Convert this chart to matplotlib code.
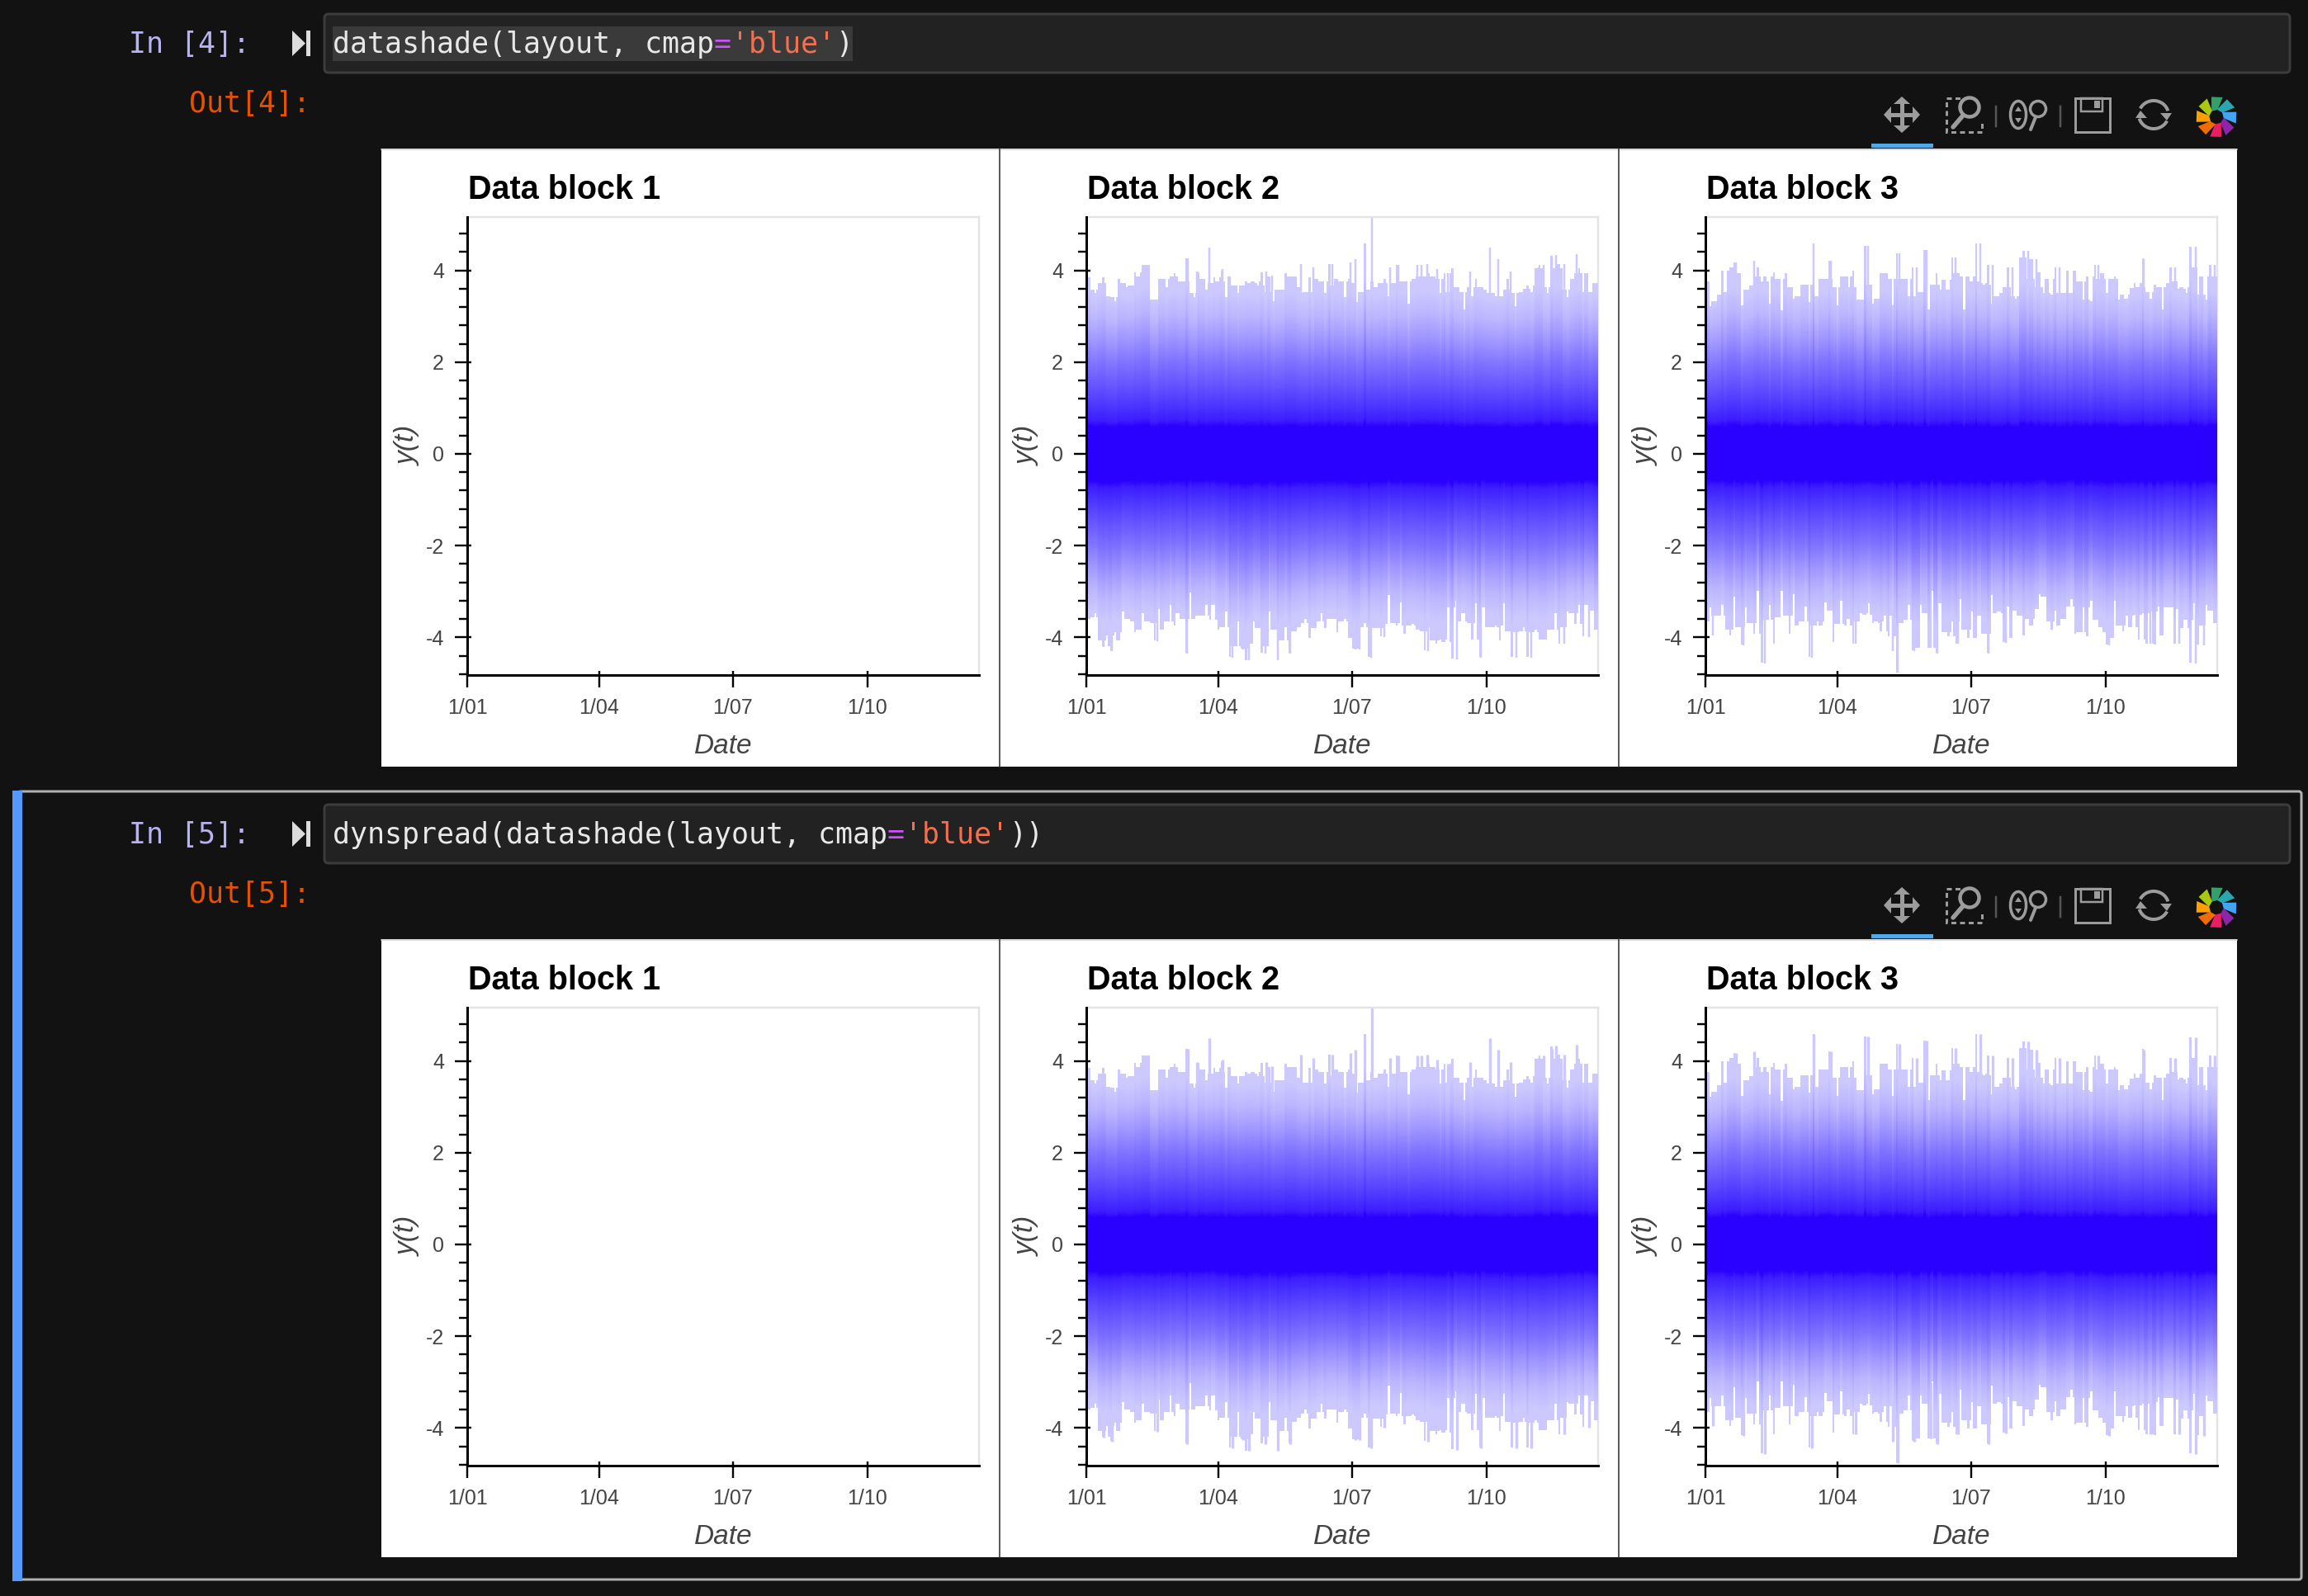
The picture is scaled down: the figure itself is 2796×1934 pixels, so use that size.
import numpy as np
import matplotlib
matplotlib.use("Agg")
import matplotlib.pyplot as plt
from matplotlib.colors import LinearSegmentedColormap
from matplotlib.patches import Rectangle, FancyBboxPatch, Polygon, Circle, Ellipse, Arc

# ---------- data ----------
PANEL_TITLES = ["Data block 1", "Data block 2", "Data block 3"]
X_TICK_DAYS = [0, 90, 181, 273]
X_TICK_LABELS = ["1/01", "1/04", "1/07", "1/10"]
Y_TICKS = [-4, -2, 0, 2, 4]
Y_TICK_LABELS = ["-4", "-2", "0", "2", "4"]

P2_UPPER = [3.84,3.57,3.50,3.72,3.84,3.44,3.42,3.33,3.81,3.72,
3.63,3.67,3.96,3.87,4.11,4.11,3.36,3.36,3.81,3.81,
3.63,3.87,3.93,3.75,3.75,4.26,3.50,3.42,3.96,3.81,
3.57,3.72,3.84,3.75,3.99,3.42,3.87,3.66,3.50,3.66,
3.75,3.72,3.75,3.66,3.96,3.53,3.87,3.33,3.57,3.57,
3.93,3.87,3.87,3.63,3.50,3.53,3.84,3.42,3.81,3.75,
3.50,4.14,3.66,3.81,3.75,3.42,3.81,3.72,3.30,3.53,
4.59,3.57,3.75,3.63,3.72,3.81,3.44,3.72,4.11,3.75,
3.75,3.27,3.81,3.87,3.87,3.87,3.93,3.87,3.81,3.50,
3.93,3.53,4.05,3.63,3.53,3.15,3.63,3.44,3.81,3.63,
3.57,3.50,3.50,3.44,3.44,3.57,3.81,3.50,3.21,3.53,
3.60,3.67,3.53,4.05,4.11,3.63,3.50,4.32,4.05,4.14,
3.57,3.42,3.81,3.93,4.05,3.53,3.93,3.53,3.72]
P2_LOWER = [-3.60,-3.57,-3.48,-4.08,-4.20,-3.96,-4.29,-3.90,-4.08,-3.45,
-3.60,-3.66,-3.90,-3.84,-3.48,-3.66,-3.69,-4.08,-3.39,-3.84,
-3.66,-3.30,-3.75,-3.48,-3.60,-4.35,-3.03,-3.60,-3.54,-3.54,
-3.30,-3.63,-3.30,-3.84,-3.78,-3.45,-4.44,-4.20,-3.66,-4.26,
-4.50,-4.14,-3.66,-3.81,-4.35,-4.20,-3.45,-3.84,-4.50,-4.08,
-3.78,-4.35,-3.87,-3.78,-3.69,-3.60,-4.02,-3.81,-3.66,-3.48,
-3.81,-3.60,-3.60,-3.90,-3.66,-3.60,-4.02,-4.26,-4.26,-3.78,
-3.69,-4.44,-3.81,-3.81,-3.99,-3.72,-3.09,-3.69,-3.75,-3.24,
-3.93,-3.75,-3.72,-3.84,-3.87,-4.29,-3.78,-4.08,-4.14,-4.05,
-4.11,-3.36,-4.47,-3.21,-3.66,-3.48,-3.69,-4.05,-3.27,-4.44,
-3.36,-3.78,-3.78,-3.75,-4.08,-3.27,-3.87,-4.44,-3.90,-3.87,
-3.78,-4.44,-3.90,-3.84,-4.05,-4.05,-3.84,-3.84,-3.48,-4.14,
-3.78,-3.45,-3.48,-3.72,-3.30,-3.99,-3.30,-3.42,-3.84]
P3_UPPER = [3.75,3.21,3.33,3.47,3.99,3.53,4.07,4.17,3.93,3.24,
3.57,3.66,3.87,4.07,3.75,3.87,3.27,3.96,3.81,3.12,
3.93,3.64,3.38,3.44,3.69,3.69,3.30,4.59,3.44,3.81,
3.82,4.20,3.63,3.24,3.87,3.87,3.63,3.99,3.36,3.36,
4.54,3.69,3.27,3.38,3.93,3.93,3.82,3.24,4.37,3.82,
3.82,3.44,4.07,3.38,3.53,4.45,3.15,3.69,3.93,3.57,
3.79,3.57,4.28,3.93,3.87,3.15,3.87,3.75,4.59,3.73,
3.69,4.12,3.27,3.44,3.50,3.63,4.07,3.44,3.38,4.28,
4.42,3.81,4.24,3.64,3.96,3.50,3.81,3.47,4.07,3.50,
3.50,3.99,3.50,3.99,3.75,3.36,3.87,3.33,4.12,3.81,
3.93,3.50,3.82,3.87,3.36,3.47,3.38,3.61,3.72,3.63,
4.26,3.52,3.38,3.69,3.64,3.15,3.72,4.07,3.75,3.60,
3.64,3.50,4.51,4.07,3.47,3.87,3.36,4.12,3.87]
P3_LOWER = [-3.66,-3.36,-3.54,-3.54,-3.30,-3.84,-3.96,-3.12,-3.78,-4.17,
-3.36,-3.69,-3.93,-3.00,-4.56,-3.63,-3.30,-4.14,-3.57,-3.00,
-3.54,-3.93,-3.06,-3.75,-3.66,-3.33,-4.44,-3.75,-3.66,-3.75,
-3.24,-3.42,-4.11,-3.72,-3.21,-3.75,-3.60,-4.14,-3.66,-3.48,
-3.51,-3.27,-3.69,-3.66,-3.87,-3.54,-3.99,-3.12,-4.77,-3.69,
-3.63,-3.30,-4.29,-4.23,-3.30,-3.48,-4.23,-3.00,-4.35,-3.27,
-3.90,-3.99,-3.66,-4.14,-3.18,-3.84,-4.02,-3.45,-4.02,-3.54,
-3.93,-4.35,-3.09,-3.48,-3.45,-4.11,-3.33,-4.02,-3.42,-3.54,
-3.96,-3.60,-3.75,-3.39,-3.06,-3.12,-3.66,-3.84,-3.42,-3.75,
-3.60,-3.33,-3.18,-3.93,-3.90,-3.36,-3.99,-3.21,-3.63,-3.78,
-3.90,-4.17,-4.02,-3.21,-3.75,-3.87,-3.54,-3.78,-3.51,-4.05,
-3.48,-4.14,-3.45,-4.17,-3.33,-3.96,-3.36,-3.36,-4.14,-3.39,
-3.81,-3.63,-4.56,-3.27,-4.17,-3.75,-3.30,-3.42,-3.69]

P2_UP_SPIKE_DAY = [83.9,69.3,146.1,154.8,167.5,180.2,183.4,194.6,225.5,228.4,232.5,239.3,246.6,262,275.2,280.7,289.3,334.3,320.5,317.5,325.7,312,308.4,75.7,122.5,126.6,93,212.5,207]
P2_UP_SPIKE_VAL = [4.50,4.26,4.14,4.06,4.14,4.18,4.24,5.17,4.11,4.11,4.14,4.03,3.94,3.97,4.50,4.24,3.97,4.36,4.33,4.27,4.14,4.11,4.06,3.97,3.97,3.88,4.03,4.11,4.06]
P2_LO_SPIKE_DAY = [17.5,68.6,99.6,106.8,111.1,122.3,130.7,139.3,194.3,183.4,186.1,203,233,252.5,269.3,293.4,303.4,326.1,343,12,48.6]
P2_LO_SPIKE_VAL = [-4.29,-4.35,-4.44,-4.26,-4.50,-4.35,-4.50,-4.35,-4.44,-4.26,-4.26,-3.99,-4.29,-4.47,-4.44,-4.44,-4.44,-4.14,-3.99,-4.20,-4.08]
P3_UP_SPIKE_DAY = [73.9,111.1,132.3,150.7,170.7,187.5,216.1,220,225.5,268.2,299.1,334.6,347.5,85.7,33.4,20.7,196.1,241.4,320.2,143.9,209.3]
P3_UP_SPIKE_VAL = [4.59,4.54,4.37,4.45,4.28,4.59,4.28,4.42,4.24,4.12,4.24,4.51,4.12,4.20,4.20,4.17,4.12,4.07,4.07,4.07,4.07]
P3_LO_SPIKE_DAY = [5,26.1,40.5,72.7,102.3,128,130.9,142.3,153.4,158,193.2,275,334.6,340.2,172,303.4,323.2,205]
P3_LO_SPIKE_VAL = [-3.96,-4.17,-4.56,-4.44,-4.14,-4.29,-4.77,-4.29,-4.23,-4.35,-4.35,-4.17,-4.56,-4.17,-4.14,-4.14,-4.14,-4.11]

SHADE_LEVELS = [0.0, 0.58, 0.72, 1.0, 1.5, 2.0, 2.5, 3.0, 3.5, 5.2]
SHADE_COLORS = ["#2a00ff", "#2a00ff", "#3d1cff", "#4a33ff", "#6655ff", "#8074ff",
                "#a097ff", "#bbb6ff", "#cdc9ff", "#cdc9ff"]

CELLS = [
    ("In [4]:", "Out[4]:", [("datashade(layout, cmap", "#e8e8e8"), ("=", "#d050ff"),
                            ("'blue'", "#f07050"), (")", "#e8e8e8")]),
    ("In [5]:", "Out[5]:", [("dynspread(datashade(layout, cmap", "#e8e8e8"), ("=", "#d050ff"),
                            ("'blue'", "#f07050"), ("))", "#e8e8e8")]),
]

# ---------- layout constants (pixels) ----------
W, H = 2796, 1934
ROW_OFFSET = 958
BG = "#121212"
MONO = "DejaVu Sans Mono"
SANS = "Liberation Sans"
PX = 0.72  # points per pixel at dpi 100
plt.rcParams["axes.unicode_minus"] = False

fig = plt.figure(figsize=(W / 100, H / 100), dpi=100, facecolor=BG)
bg = fig.add_axes([0, 0, 1, 1], zorder=0)
bg.set_xlim(0, W)
bg.set_ylim(H, 0)
bg.axis("off")

cmap = LinearSegmentedColormap.from_list(
    "shade", [(l / SHADE_LEVELS[-1], c) for l, c in zip(SHADE_LEVELS, SHADE_COLORS)])
PALE = "#cdc9ff"
Y_TOP, Y_BOT = 5.167, -4.82
XMAX = 349
YGRID = np.arange(-4.9, 5.24, 0.018)


def thin_tips(v):
    """Each read column shows its value on its left half; its right half shows the
    median of it and its neighbours, so isolated peaks and notches stay narrow."""
    out = np.empty(2 * len(v))
    out[0::2] = v
    prev = np.r_[v[0], v[:-1]]
    nxt = np.r_[v[1:], v[-1]]
    out[1::2] = np.median(np.vstack([prev, v, nxt]), axis=0)
    return out


def draw_density(ax, upper, lower, spikes, spike_px):
    up2 = thin_tips(np.array(upper))
    lo2 = thin_tips(np.array(lower))
    n2 = len(up2)
    edges_x = np.linspace(0, XMAX, n2 + 1)
    for xs, ys, base in ((spikes[0], spikes[1], 3.0), (spikes[2], spikes[3], -3.0)):
        ax.vlines(xs, base, ys, colors=PALE, lw=spike_px * PX, zorder=1)
    scale = 3.7
    yc = 0.5 * (YGRID[:-1] + YGRID[1:])
    z = np.full((len(yc), n2), np.nan)
    pos = yc >= 0
    for j in range(n2):
        col = np.empty(len(yc))
        col[pos] = yc[pos] * scale / (0.45 * up2[j] + 0.55 * scale)
        col[~pos] = -yc[~pos] * scale / (0.45 * -lo2[j] + 0.55 * scale)
        col[(yc > up2[j]) | (yc < lo2[j])] = np.nan
        z[:, j] = col
    ax.pcolormesh(edges_x, YGRID, np.ma.masked_invalid(z), cmap=cmap, vmin=0,
                  vmax=SHADE_LEVELS[-1], shading="flat", zorder=2, rasterized=True,
                  antialiased=False, linewidth=0)


def make_axes(left, top, idx, data):
    ax = fig.add_axes([left / W, 1 - (top + 555.3) / H, 620 / W, 555.3 / H], zorder=2, facecolor="white")
    ax.set_xlim(0, XMAX)
    ax.set_ylim(Y_BOT, Y_TOP)
    if data is not None:
        draw_density(ax, *data)
    ax.set_title(PANEL_TITLES[idx], loc="left", fontfamily=SANS, fontweight="bold",
                 fontsize=28.5, color="black", pad=22 * PX, x=0.002)
    ax.set_xticks(X_TICK_DAYS, X_TICK_LABELS)
    ax.set_yticks(Y_TICKS, Y_TICK_LABELS)
    ax.set_yticks(np.arange(-4.8, 5.0, 0.4), minor=True)
    ax.tick_params(axis="both", which="major", direction="out", length=15 * PX, width=2.4 * PX,
                   color="black", labelcolor="#444444", labelsize=18)
    ax.tick_params(axis="x", which="major", pad=13 * PX)
    ax.tick_params(axis="y", which="major", pad=13 * PX)
    ax.tick_params(axis="y", which="minor", direction="out", length=10 * PX, width=2.4 * PX, color="black")
    for lab in ax.get_xticklabels() + ax.get_yticklabels():
        lab.set_fontfamily(SANS)
    for lab in ax.get_yticklabels():
        lab.set_va("center_baseline")
    ax.set_xlabel("Date", fontfamily=SANS, fontstyle="italic", fontsize=24, color="#444444")
    ax.xaxis.set_label_coords(0.5, -95 / 555.3)
    ax.xaxis.label.set_va("baseline")
    ax.set_ylabel("y(t)", fontfamily=SANS, fontstyle="italic", fontsize=24, color="#444444")
    ax.yaxis.set_label_coords(-72 / 620, 0.5)
    ax.yaxis.label.set_va("center")
    for s in ("top", "right"):
        ax.spines[s].set_color("#e4e4e4")
        ax.spines[s].set_linewidth(2.4 * PX)
        ax.spines[s].set_zorder(1.5)
    for s in ("left", "bottom"):
        ax.spines[s].set_color("black")
        ax.spines[s].set_linewidth(3 * PX)
    # short inner part of the major ticks
    sx = ax.secondary_xaxis("bottom")
    sx.set_xticks(X_TICK_DAYS, ["" for _ in X_TICK_DAYS])
    sx.tick_params(direction="in", length=5 * PX, width=2.4 * PX, color="black")
    sy = ax.secondary_yaxis("left")
    sy.set_yticks(Y_TICKS, ["" for _ in Y_TICKS])
    sy.tick_params(direction="in", length=5 * PX, width=2.4 * PX, color="black")
    for sec in (sx, sy):
        for sp in sec.spines.values():
            sp.set_visible(False)
    return ax


def draw_toolbar(dy):
    c = "#9c9c9c"
    bg.add_patch(Rectangle((2267, 174 + dy), 75, 5, color="#4fa8e8", lw=0))
    # pan
    cx, cy = 2304, 139 + dy
    bg.plot([cx - 16, cx + 16], [cy, cy], color=c, lw=5 * PX, solid_capstyle="butt")
    bg.plot([cx, cx], [cy - 16, cy + 16], color=c, lw=5 * PX, solid_capstyle="butt")
    for sx, sy in ((1, 0), (-1, 0), (0, 1), (0, -1)):
        if sx:
            pts = [(cx + sx * 22, cy), (cx + sx * 13, cy - 10), (cx + sx * 13, cy + 10)]
        else:
            pts = [(cx, cy + sy * 22), (cx - 10, cy + sy * 13), (cx + 10, cy + sy * 13)]
        bg.add_patch(Polygon(pts, color=c, lw=0))
    # box zoom
    bg.add_patch(Rectangle((2358, 119 + dy), 43, 41, fill=False, ec=c, lw=3 * PX, ls=(0, (2, 1.5))))
    bg.add_patch(Rectangle((2380, 112 + dy), 26, 36, color=BG, lw=0))
    bg.add_patch(Circle((2386, 130 + dy), 11.5, fill=False, ec=c, lw=4.5 * PX))
    bg.plot([2378, 2366], [140 + dy, 154 + dy], color=c, lw=5.5 * PX, solid_capstyle="round")
    # separators
    for x in (2418, 2495.5):
        bg.plot([x, x], [129 + dy, 153 + dy], color="#555555", lw=2.5 * PX)
    # wheel zoom
    bg.add_patch(Ellipse((2445, 139 + dy), 19, 33, fill=False, ec=c, lw=3.5 * PX))
    bg.add_patch(Polygon([(2445, 129 + dy), (2441, 135 + dy), (2449, 135 + dy)], color=c, lw=0))
    bg.add_patch(Polygon([(2445, 149 + dy), (2441, 143 + dy), (2449, 143 + dy)], color=c, lw=0))
    bg.add_patch(Circle((2469, 132 + dy), 9.5, fill=False, ec=c, lw=3.5 * PX))
    bg.plot([2466, 2460], [142 + dy, 157 + dy], color=c, lw=4 * PX, solid_capstyle="round")
    # save
    bg.add_patch(Rectangle((2514, 119 + dy), 42, 41, fill=False, ec=c, lw=3 * PX))
    bg.add_patch(Rectangle((2521, 119 + dy), 26, 16, fill=False, ec=c, lw=2.5 * PX))
    bg.add_patch(Rectangle((2537, 122 + dy), 7, 9, color=c, lw=0))
    # reset
    cx, cy = 2609, 139 + dy
    bg.add_patch(Arc((cx, cy), 36, 34, theta1=205, theta2=345, ec=c, lw=4 * PX))
    bg.add_patch(Arc((cx, cy), 36, 34, theta1=25, theta2=165, ec=c, lw=4 * PX))
    bg.add_patch(Polygon([(2587, 143 + dy), (2601, 143 + dy), (2593, 134 + dy)], color=c, lw=0))
    bg.add_patch(Polygon([(2617, 137 + dy), (2631, 137 + dy), (2625, 146 + dy)], color=c, lw=0))
    # hover wheel
    cols = ["#33a06a", "#2ba6b0", "#42a5f5", "#8e24aa", "#e91e63", "#ef6c00", "#ffa000", "#a8c814"]
    cx, cy = 2685, 141.7 + dy
    for k, col in enumerate(cols):
        a = np.deg2rad(-90 + 45 * k)
        pts = []
        for r, off in ((9, -40), (25, -14), (25, 18), (9, 10)):
            t = a + np.deg2rad(off)
            pts.append((cx + r * np.cos(t), cy + r * np.sin(t)))
        bg.add_patch(Polygon(pts, color=col, lw=0))


def draw_cell(r, dy):
    in_label, out_label, tokens = CELLS[r]
    bg.text(303, 64 + dy, in_label, color="#b7b2f2", fontfamily=MONO, fontsize=25.1, ha="right", va="baseline")
    bg.text(376, 136 + dy, out_label, color="#e65100", fontfamily=MONO, fontsize=25.1, ha="right", va="baseline")
    bg.add_patch(Polygon([(354, 37 + dy), (354, 68 + dy), (370, 52.5 + dy)], color="#dcdcdc", lw=0))
    bg.add_patch(Rectangle((371, 37 + dy), 4.5, 31, color="#dcdcdc", lw=0))
    bg.add_patch(FancyBboxPatch((393, 17 + dy), 2381, 71, boxstyle="round,pad=0,rounding_size=5",
                                fc="#222222", ec="#3c3c3c", lw=3 * PX))
    chars = sum(len(t) for t, _ in tokens)
    if r == 0:
        bg.add_patch(Rectangle((403, 32), chars * 21, 42, color="#3a3a3a", lw=0))
    i = 0
    for text, col in tokens:
        bg.text(403 + i * 21.0, 64 + dy, text, color=col, fontfamily=MONO, fontsize=25.1,
                ha="left", va="baseline")
        i += len(text)


# selected cell frame
bg.add_patch(FancyBboxPatch((22, 959), 2766, 955, boxstyle="round,pad=0,rounding_size=3",
                            fc=BG, ec="#b0b0b0", lw=3 * PX))
bg.add_patch(Rectangle((15, 958), 12, 958, color="#5599ff", lw=0))

PANEL_DATA = [
    None,
    (P2_UPPER, P2_LOWER, (P2_UP_SPIKE_DAY, P2_UP_SPIKE_VAL, P2_LO_SPIKE_DAY, P2_LO_SPIKE_VAL)),
    (P3_UPPER, P3_LOWER, (P3_UP_SPIKE_DAY, P3_UP_SPIKE_VAL, P3_LO_SPIKE_DAY, P3_LO_SPIKE_VAL)),
]

for r, dy in enumerate((0, ROW_OFFSET)):
    draw_cell(r, dy)
    draw_toolbar(dy)
    bg.add_patch(Rectangle((461.5, 180 + dy), 2248.5, 749, fc="white", ec="none"))
    bg.plot([461.5, 2710], [180.5 + dy, 180.5 + dy], color="#cccccc", lw=1.5 * PX)
    for x in (1211, 1961):
        bg.plot([x, x], [180 + dy, 929 + dy], color="#333333", lw=1.6 * PX)
    for i, left in enumerate((566, 1316, 2066)):
        d = PANEL_DATA[i]
        if d is not None:
            d = d + (2.5 if r == 0 else 3.4,)
        make_axes(left, 262.7 + dy, i, d)

fig.savefig("out.png", dpi=100, facecolor=BG)
